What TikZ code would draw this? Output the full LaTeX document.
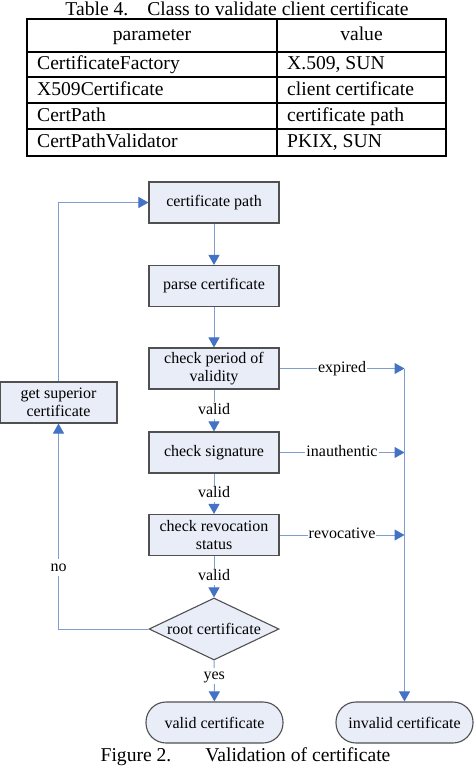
\documentclass[tikz,border=0pt]{standalone}
\usepackage{fontspec}
\setmainfont{Liberation Serif}
\usetikzlibrary{arrows.meta,shapes.geometric}
\definecolor{boxfill}{HTML}{E8EDF7}
\definecolor{boxline}{HTML}{505050}
\definecolor{linkblue}{HTML}{7F9ED0}
\definecolor{tipblue}{HTML}{4472C4}
\tikzset{
  stepbox/.style={draw=boxline, line width=1.1pt, fill=boxfill, minimum width=130pt, minimum height=41pt, inner sep=0pt, align=center, font=\fontsize{16}{18}\selectfont},
  termbox/.style={draw=boxline, line width=1.1pt, fill=boxfill, minimum width=137pt, minimum height=41pt, inner sep=0pt, rounded corners=20pt, align=center, font=\fontsize{16}{18}\selectfont},
  decbox/.style={diamond, draw=boxline, line width=1.1pt, fill=boxfill, minimum width=130pt, minimum height=62pt, inner sep=0pt, aspect=2.1, font=\fontsize{16}{18}\selectfont},
  link/.style={draw=linkblue, line width=1pt, -{Triangle[length=10pt,width=11pt,color=tipblue]}},
  lbl/.style={fill=white, inner sep=1pt, text height=11pt, text depth=3.5pt, font=\fontsize{16}{18}\selectfont},
  tabtext/.style={inner sep=0pt, text height=13.5pt, text depth=4.5pt, font=\fontsize{19.6}{22}\selectfont},
  tabline/.style={line width=1.4pt, black}
}
\begin{document}
\begin{tikzpicture}[x=1pt,y=-1pt]
\useasboundingbox (0,0) rectangle (474,768);
% title
\node[tabtext, anchor=base] (ttl) at (237,15.5) {Table 4.\hspace{19pt}Class to validate client certificate};
% table frame
\draw[tabline] (27,19) rectangle (446,156);
\foreach \yy in {52,77,103,129} \draw[tabline] (27,\yy) -- (446,\yy);
\draw[tabline] (277,19) -- (277,156);
\node[tabtext] (h1) at (152,36) {parameter};
\node[tabtext] (h2) at (361.5,36) {value};
\node[tabtext, anchor=west] (r1a) at (37,65) {CertificateFactory};
\node[tabtext, anchor=west] (r1b) at (287,65) {X.509, SUN};
\node[tabtext, anchor=west] (r2a) at (37,90.5) {X509Certificate};
\node[tabtext, anchor=west] (r2b) at (287,90.5) {client certificate};
\node[tabtext, anchor=west] (r3a) at (37,116.5) {CertPath};
\node[tabtext, anchor=west] (r3b) at (287,116.5) {certificate path};
\node[tabtext, anchor=west] (r4a) at (37,142.5) {CertPathValidator};
\node[tabtext, anchor=west] (r4b) at (287,142.5) {PKIX, SUN};
% flowchart
\node[stepbox] (cp) at (214,202.5) {certificate path};
\node[stepbox] (parse) at (214,286) {parse certificate};
\node[stepbox] (period) at (214,368.5) {check period of\\validity};
\node[stepbox] (sig) at (214,452.5) {check signature};
\node[stepbox] (rev) at (214,535) {check revocation\\status};
\node[decbox] (root) at (214,629) {root certificate};
\node[termbox] (valid) at (214.5,722.5) {valid certificate};
\node[termbox] (invalid) at (404.5,722.5) {invalid certificate};
\node[stepbox, minimum width=117pt] (sup) at (58.5,402.5) {get superior\\certificate};
% links
\draw[link] (cp) -- (parse);
\draw[link] (parse) -- (period);
\draw[link] (period) -- node[lbl] {valid} (sig);
\draw[link] (sig) -- node[lbl] {valid} (rev);
\draw[link] (rev) -- node[lbl] {valid} (root);
\draw[link] (root) -- node[lbl, pos=0.38] {yes} (valid);
\coordinate (e1) at (period.east -| invalid.north);
\coordinate (e2) at (sig.east -| invalid.north);
\coordinate (e3) at (rev.east -| invalid.north);
\draw[link] (period.east) -- node[lbl] {expired} (e1);
\draw[link] (sig.east) -- node[lbl] {inauthentic} (e2);
\draw[link] (rev.east) -- node[lbl] {revocative} (e3);
\draw[link] (e1) -- (invalid.north);
\draw[link] (root.west) -| node[lbl, pos=0.65] {no} (sup.south);
\draw[link] (sup.north) |- (cp.west);
% caption
\node[tabtext] (cap) at (245.5,757) {Figure 2.\hspace{34pt}Validation of certificate};
\end{tikzpicture}
\end{document}
